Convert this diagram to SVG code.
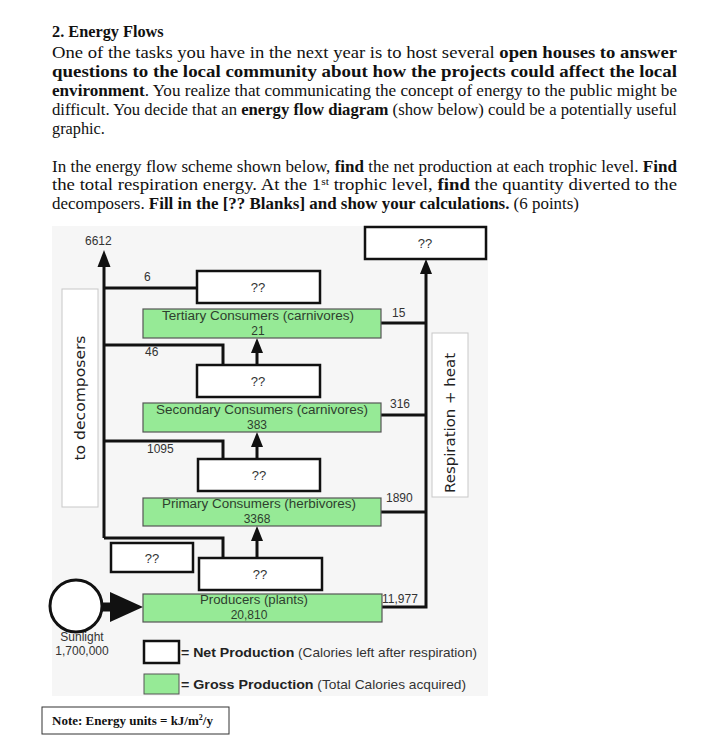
<svg xmlns="http://www.w3.org/2000/svg" width="723" height="744" viewBox="0 0 723 744">
<style>
.p{font-family:"Liberation Serif","Times New Roman",serif;font-size:16.3px;fill:#111}
.b{font-weight:bold}
.lbl{font-family:"Liberation Sans",Arial,sans-serif;font-size:12px;fill:#333}
.g{font-family:"Liberation Sans",Arial,sans-serif;font-size:12px;fill:#2e3f2e}
.q{font-family:"Liberation Sans",Arial,sans-serif;font-size:13px;fill:#333;text-anchor:middle}
.net{fill:#fff;stroke:#111;stroke-width:2.5}
.gross{fill:#96ea96;stroke:#555;stroke-width:1.2}
.ln{fill:none;stroke:#111;stroke-width:3}
.ah{fill:#111}
.side{fill:#fff;stroke:#c8c8c8;stroke-width:1}
.rot{font-family:"DejaVu Sans","Liberation Sans",sans-serif;font-size:14px;fill:#222;text-anchor:middle}
</style>
<rect width="723" height="744" fill="#fff"/>

<g id="text-header">
<text class="p b" x="52" y="37" font-size="16.5">2. Energy Flows</text>
<text class="p" x="52" y="58" textLength="625" lengthAdjust="spacingAndGlyphs">One of the tasks you have in the next year is to host several <tspan class="b">open houses to answer</tspan></text>
<text class="p b" x="52" y="77" textLength="625" lengthAdjust="spacingAndGlyphs">questions to the local community about how the projects could affect the local</text>
<text class="p" x="52" y="96" textLength="625" lengthAdjust="spacingAndGlyphs"><tspan class="b">environment</tspan>. You realize that communicating the concept of energy to the public might be</text>
<text class="p" x="52" y="115" textLength="625" lengthAdjust="spacingAndGlyphs">difficult. You decide that an <tspan class="b">energy flow diagram</tspan> (show below) could be a potentially useful</text>
<text class="p" x="52" y="134">graphic.</text>
<text class="p" x="52" y="172" textLength="625" lengthAdjust="spacingAndGlyphs">In the energy flow scheme shown below, <tspan class="b">find</tspan> the net production at each trophic level.  <tspan class="b">Find</tspan></text>
<text class="p" x="52" y="190" textLength="625" lengthAdjust="spacingAndGlyphs">the total respiration energy. At the 1<tspan font-size="10" dy="-5">st</tspan><tspan dy="5"> trophic level, </tspan><tspan class="b">find</tspan> the quantity diverted to the</text>
<text class="p" x="52" y="209" textLength="527" lengthAdjust="spacingAndGlyphs">decomposers. <tspan class="b">Fill in the [?? Blanks] and show your calculations.</tspan> (6 points)</text>
</g>

<rect x="52" y="226" width="436" height="470" fill="#f6f6f6"/>

<g id="side-labels">
<rect class="side" x="62" y="289" width="36" height="218"/>
<text class="rot" transform="translate(85,398) rotate(-90)" textLength="125" lengthAdjust="spacingAndGlyphs">to decomposers</text>
<rect class="side" x="432" y="333" width="36" height="164"/>
<text class="rot" transform="translate(455,423) rotate(-90)" textLength="140" lengthAdjust="spacingAndGlyphs">Respiration + heat</text>
</g>

<g id="connectors">
<path class="ln" d="M104,538 V265"/>
<polygon class="ah" points="104,250 97.5,267 110.5,267"/>
<path class="ln" d="M104,288 H197"/>
<path class="ln" d="M104,345 H223 V365"/>
<path class="ln" d="M104,441 H223 V459"/>
<path class="ln" d="M104,538 H223 V558"/>
<path class="ln" d="M257,365 V350"/>
<polygon class="ah" points="257,338 251,353 263,353"/>
<path class="ln" d="M257,459 V444"/>
<polygon class="ah" points="257,432 251,447 263,447"/>
<path class="ln" d="M257,558 V538"/>
<polygon class="ah" points="257,526 251,541 263,541"/>
<path class="ln" d="M382,607 H426 V271"/>
<polygon class="ah" points="426,259 420,274 432,274"/>
<path class="ln" d="M381,323 H426"/>
<path class="ln" d="M381,415 H426"/>
<path class="ln" d="M381,512 H426"/>
<path d="M100,607 H114" stroke="#111" stroke-width="9"/>
<path d="M110,592 L143,607 L110,622 Z" fill="#111"/>
<text class="lbl" x="85" y="245">6612</text>
<text class="lbl" x="144" y="281">6</text>
<text class="lbl" x="145" y="356">46</text>
<text class="lbl" x="147" y="453">1095</text>
<text class="lbl" x="392" y="317">15</text>
<text class="lbl" x="390" y="408">316</text>
<text class="lbl" x="386" y="502">1890</text>
<text class="lbl" x="382" y="603">11,977</text>
</g>

<g id="respiration-total">
<rect class="net" x="365" y="227" width="121" height="32"/>
<text class="q" x="425" y="248">??</text>
</g>

<g id="tertiary-net">
<rect class="net" x="197" y="271" width="123" height="32"/>
<text class="q" x="258" y="292">??</text>
</g>
<g id="tertiary-gross">
<rect class="gross" x="143" y="309" width="238" height="29"/>
<text class="g" x="258" y="320" text-anchor="middle" textLength="192" lengthAdjust="spacingAndGlyphs">Tertiary Consumers (carnivores)</text>
<text class="g" x="258" y="335" text-anchor="middle">21</text>
</g>

<g id="secondary-net">
<rect class="net" x="197" y="365" width="123" height="32"/>
<text class="q" x="258" y="386">??</text>
</g>
<g id="secondary-gross">
<rect class="gross" x="143" y="403" width="238" height="29"/>
<text class="g" x="262" y="414" text-anchor="middle" textLength="212" lengthAdjust="spacingAndGlyphs">Secondary Consumers (carnivores)</text>
<text class="g" x="257" y="429" text-anchor="middle">383</text>
</g>

<g id="primary-net">
<rect class="net" x="198" y="459" width="122" height="32"/>
<text class="q" x="259" y="480">??</text>
</g>
<g id="primary-gross">
<rect class="gross" x="143" y="498" width="238" height="28"/>
<text class="g" x="259" y="508" text-anchor="middle" textLength="194" lengthAdjust="spacingAndGlyphs">Primary Consumers (herbivores)</text>
<text class="g" x="257" y="523" text-anchor="middle">3368</text>
</g>

<g id="decomposer-net">
<rect class="net" x="111" y="543" width="82" height="29"/>
<text class="q" x="152" y="563">??</text>
</g>

<g id="producer-net">
<rect class="net" x="199" y="558" width="123" height="32"/>
<text class="q" x="260" y="579">??</text>
</g>
<g id="producer-gross">
<rect class="gross" x="143" y="594" width="239" height="28"/>
<text class="g" x="254" y="604" text-anchor="middle" textLength="108" lengthAdjust="spacingAndGlyphs">Producers (plants)</text>
<text class="g" x="249" y="619" text-anchor="middle">20,810</text>
</g>

<g id="sunlight">
<text class="lbl" x="82" y="641" text-anchor="middle" font-size="12.5">Sunlight</text>
<circle cx="76" cy="606" r="26" fill="#fff" stroke="#111" stroke-width="3"/>
<text class="lbl" x="82" y="655" text-anchor="middle" font-size="12.5">1,700,000</text>
</g>

<g id="legend">
<rect x="144" y="641" width="35" height="22" fill="#fff" stroke="#111" stroke-width="2.5"/>
<text x="181" y="657" font-family="'Liberation Sans',Arial,sans-serif" font-size="13.5" fill="#222" textLength="296" lengthAdjust="spacingAndGlyphs"><tspan font-weight="bold">= Net Production</tspan><tspan font-size="13" fill="#333"> (Calories left after respiration)</tspan></text>
<rect x="144" y="674" width="35" height="20" fill="#96ea96" stroke="#555" stroke-width="1"/>
<text x="181" y="689" font-family="'Liberation Sans',Arial,sans-serif" font-size="13.5" fill="#222" textLength="285" lengthAdjust="spacingAndGlyphs"><tspan font-weight="bold">= Gross Production</tspan><tspan font-size="13" fill="#333"> (Total Calories acquired)</tspan></text>
</g>

<g id="note">
<rect x="42" y="707" width="187" height="27" fill="#fff" stroke="#333" stroke-width="1"/>
<text x="52" y="725" font-family="'Liberation Serif','Times New Roman',serif" font-size="13" font-weight="bold" fill="#111">Note: Energy units = kJ/m<tspan font-size="8" dy="-5">2</tspan><tspan dy="5">/y</tspan></text>
</g>
</svg>
